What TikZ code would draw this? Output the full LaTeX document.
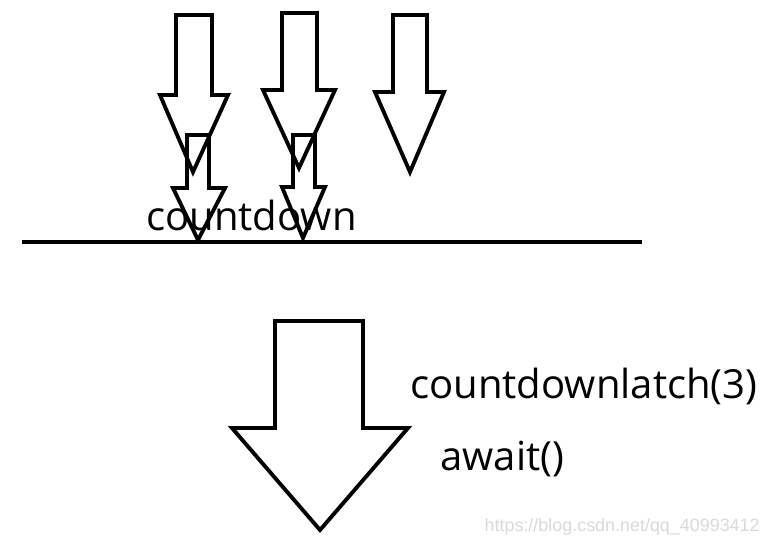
\documentclass[tikz,border=0pt]{standalone}
\usepackage{fontspec}
\setmainfont{Open Sans}
\newfontfamily\wmfont{Liberation Sans}
\usepackage{tikz}

\tikzset{
  fat/.style={line width=2.2pt, line join=miter},
  lbl/.style={anchor=base west, inner sep=0pt, font=\fontsize{22.8}{27}\selectfont}
}

\begin{document}
\begin{tikzpicture}[x=0.02cm, y=-0.02cm]
\useasboundingbox (0,0) rectangle (770,544);
% block arrows: shaft left/right, top, head base, head left/right, tip
\foreach \sl/\sr/\tp/\bs/\hl/\hr/\tx/\ty in {
  176/212/15/95/160/228/193/172,
  282/317/13/90/263/335/299/168,
  393/427/15/92/375/444/410/172,
  187/209/135/188/173/225/198/240,
  293/315/135/187/282/325/303/238,
  275/363/321/428/232/408/320/530}
  \draw[fat] (\sl,\tp) -- (\sr,\tp) -- (\sr,\bs) -- (\hr,\bs) -- (\tx,\ty)
    -- (\hl,\bs) -- (\sl,\bs) -- cycle;
\coordinate (L) at (22,242);
\coordinate (R) at (642,242);
\draw[fat] (L) -- (R);
\node[lbl] (cd) at (146,230) {countdown};
\node[lbl] (latch) at (410,398) {countdownlatch(3)};
\node[lbl] (aw) at (440,470) {await()};
\node[anchor=base east, inner sep=0pt, text=black!15, font=\fontsize{10.2}{12}\selectfont\wmfont] (wm) at (760,531) {https://blog.csdn.net/qq\_40993412};
\end{tikzpicture}
\end{document}
